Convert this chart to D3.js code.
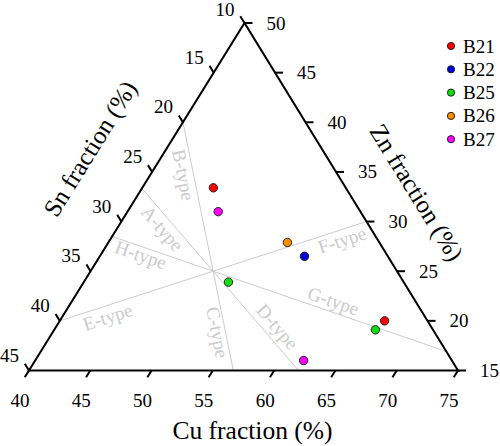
<!DOCTYPE html>
<html>
<head>
<meta charset="utf-8">
<script src="https://cdn.jsdelivr.net/npm/d3@7"></script>
<style>
  body { margin: 0; background: #fff; }
  svg { display: block; }
  text { font-family: "Liberation Serif", "Times New Roman", serif; }
</style>
</head>
<body>
<svg id="chart" width="500" height="446"></svg>
<script>
// sample compositions (wt %), one entry per measured point
var samples  = ["B21", "B21", "B22", "B25", "B25", "B26", "B27", "B27"];
var cuValues = [45.8, 66.5, 56.7, 51.8, 66.2, 54.6, 47.4, 61.9];
var snValues = [20.8, 13.5, 16.8, 24.3, 14.7, 17.5, 21.6, 22.1];
var znValues = [33.4, 20.0, 26.5, 23.9, 19.1, 27.9, 31.0, 16.0];

var legendLabels = ["B21", "B22", "B25", "B26", "B27"];

var cuTicks = [40, 45, 50, 55, 60, 65, 70, 75];
var snTicks = [10, 15, 20, 25, 30, 35, 40, 45];
var znTicks = [15, 20, 25, 30, 35, 40, 45, 50];

// type boundaries: [Cu, Sn, Zn] from -> to
var typeNames = ["B-type", "A-type", "H-type", "E-type", "C-type", "D-type", "G-type", "F-type"];
var typeFrom = [[40, 20, 40], [40, 26.67, 33.33], [40, 31.5, 28.5], [40, 40, 20],
                [50, 25, 25], [50, 25, 25], [50, 25, 25], [50, 25, 25]];
var typeTo   = [[50, 25, 25], [50, 25, 25], [50, 25, 25], [50, 25, 25],
                [56.67, 28.33, 15], [62, 23, 15], [73.08, 10, 16.92], [60, 10, 30]];
// label position along segment and offset across it
var typeLabelAt  = [0.34, 0.40, 0.31, 0.29, 0.60, 0.64, 0.50, 0.82];
var typeLabelOff = [10, 10.5, 8, 11, 8, -12.5, -11, 10];

var colors = d3.scaleOrdinal()
    .domain(legendLabels)
    .range(["#ff0000", "#0000dd", "#11dd11", "#ff8c00", "#ff00ff"]);

var svg = d3.select("#chart");

var BL = {x: 29, y: 370.5}, BR = {x: 458, y: 370.5}, T = {x: 244.5, y: 23};

var cuScale = d3.scaleLinear().domain([40, 75]).range([0, 1]);
var znScale = d3.scaleLinear().domain([15, 50]).range([0, 1]);

function project(cu, sn, zn) {
    var a = cuScale(cu), c = znScale(zn);
    return [BL.x + a * (BR.x - BL.x) + c * (T.x - BL.x),
            BL.y + c * (T.y - BL.y)];
}

var tickLen = 8;
var leftLen = Math.hypot(T.x - BL.x, T.y - BL.y);
var rightLen = Math.hypot(T.x - BR.x, T.y - BR.y);
var bottomDir = [-(T.x - BL.x) / leftLen, -(T.y - BL.y) / leftLen];
var leftDir = [(T.x - BR.x) / rightLen, (T.y - BR.y) / rightLen];

// type lines
var typeG = svg.append("g");
typeNames.forEach(function(name, i) {
    var p0 = project.apply(null, typeFrom[i]);
    var p1 = project.apply(null, typeTo[i]);
    typeG.append("line")
        .attr("x1", p0[0]).attr("y1", p0[1])
        .attr("x2", p1[0]).attr("y2", p1[1])
        .attr("stroke", "#cccccc")
        .attr("stroke-width", 1);
    var t = typeLabelAt[i];
    var px = p0[0] + t * (p1[0] - p0[0]);
    var py = p0[1] + t * (p1[1] - p0[1]);
    var ang = Math.atan2(p1[1] - p0[1], p1[0] - p0[0]) * 180 / Math.PI;
    typeG.append("text")
        .attr("transform", "translate(" + px + "," + py + ") rotate(" + ang + ")")
        .attr("y", typeLabelOff[i])
        .attr("text-anchor", "middle")
        .attr("dominant-baseline", "central")
        .attr("font-size", "19px")
        .attr("fill", "#cbcbcb")
        .text(name);
});

// triangle frame
svg.append("path")
    .attr("d", d3.line()([[BL.x, BL.y], [BR.x, BR.y], [T.x, T.y]]) + "Z")
    .attr("fill", "none")
    .attr("stroke", "#000")
    .attr("stroke-width", 2)
    .attr("stroke-linejoin", "miter");

var axisG = svg.append("g").attr("stroke", "#000").attr("stroke-width", 2);

// bottom axis (Cu)
cuTicks.forEach(function(v) {
    var p = project(v, 85 - v, 15);
    axisG.append("line")
        .attr("x1", p[0]).attr("y1", p[1])
        .attr("x2", p[0] + bottomDir[0] * tickLen).attr("y2", p[1] + bottomDir[1] * tickLen);
    svg.append("text")
        .attr("x", p[0] - 9).attr("y", p[1] + 36)
        .attr("text-anchor", "middle")
        .attr("font-size", "19px")
        .text(v);
});

// left axis (Sn)
snTicks.forEach(function(v) {
    var p = project(40, v, 60 - v);
    axisG.append("line")
        .attr("x1", p[0]).attr("y1", p[1])
        .attr("x2", p[0] + leftDir[0] * tickLen).attr("y2", p[1] + leftDir[1] * tickLen);
    svg.append("text")
        .attr("x", p[0] - 10).attr("y", Math.max(p[1] - 9, 16))
        .attr("text-anchor", "end")
        .attr("font-size", "19px")
        .text(v);
});

// right axis (Zn)
znTicks.forEach(function(v) {
    var p = project(90 - v, 10, v);
    axisG.append("line")
        .attr("x1", p[0]).attr("y1", p[1])
        .attr("x2", p[0] + tickLen).attr("y2", p[1]);
    svg.append("text")
        .attr("x", p[0] + 22).attr("y", p[1])
        .attr("dominant-baseline", "central")
        .attr("font-size", "19px")
        .text(v);
});

// axis titles
svg.append("text")
    .attr("x", (BL.x + BR.x) / 2 + 9).attr("y", BL.y + 68)
    .attr("text-anchor", "middle")
    .attr("font-size", "25.5px")
    .text("Cu fraction (%)");

var snAng = Math.atan2(T.y - BL.y, T.x - BL.x) * 180 / Math.PI;
var snPos = [BL.x + 0.54 * (T.x - BL.x), BL.y + 0.54 * (T.y - BL.y)];
svg.append("text")
    .attr("transform", "translate(" + snPos[0] + "," + snPos[1] + ") rotate(" + snAng + ")")
    .attr("y", -65)
    .attr("text-anchor", "middle")
    .attr("dominant-baseline", "central")
    .attr("font-size", "25px")
    .text("Sn fraction (%)");

var znAng = Math.atan2(BR.y - T.y, BR.x - T.x) * 180 / Math.PI;
var znPos = [T.x + 0.575 * (BR.x - T.x), T.y + 0.575 * (BR.y - T.y)];
svg.append("text")
    .attr("transform", "translate(" + znPos[0] + "," + znPos[1] + ") rotate(" + znAng + ")")
    .attr("y", -58)
    .attr("text-anchor", "middle")
    .attr("dominant-baseline", "central")
    .attr("font-size", "25px")
    .text("Zn fraction (%)");

// data points
svg.append("g").selectAll("circle")
    .data(samples)
    .join("circle")
    .attr("cx", function(d, i) { return project(cuValues[i], snValues[i], znValues[i])[0]; })
    .attr("cy", function(d, i) { return project(cuValues[i], snValues[i], znValues[i])[1]; })
    .attr("r", 4.2)
    .attr("fill", function(d) { return colors(d); })
    .attr("stroke", "#222")
    .attr("stroke-width", 1);

// legend
var legend = svg.append("g").attr("transform", "translate(451,46)");
var rows = legend.selectAll("g")
    .data(legendLabels)
    .join("g")
    .attr("transform", function(d, i) { return "translate(0," + (i * 23.3) + ")"; });
rows.append("circle")
    .attr("r", 3.6)
    .attr("fill", function(d) { return colors(d); })
    .attr("stroke", "#222")
    .attr("stroke-width", 1);
rows.append("text")
    .attr("x", 12)
    .attr("dominant-baseline", "central")
    .attr("font-size", "19px")
    .text(function(d) { return d; });
</script>
</body>
</html>
